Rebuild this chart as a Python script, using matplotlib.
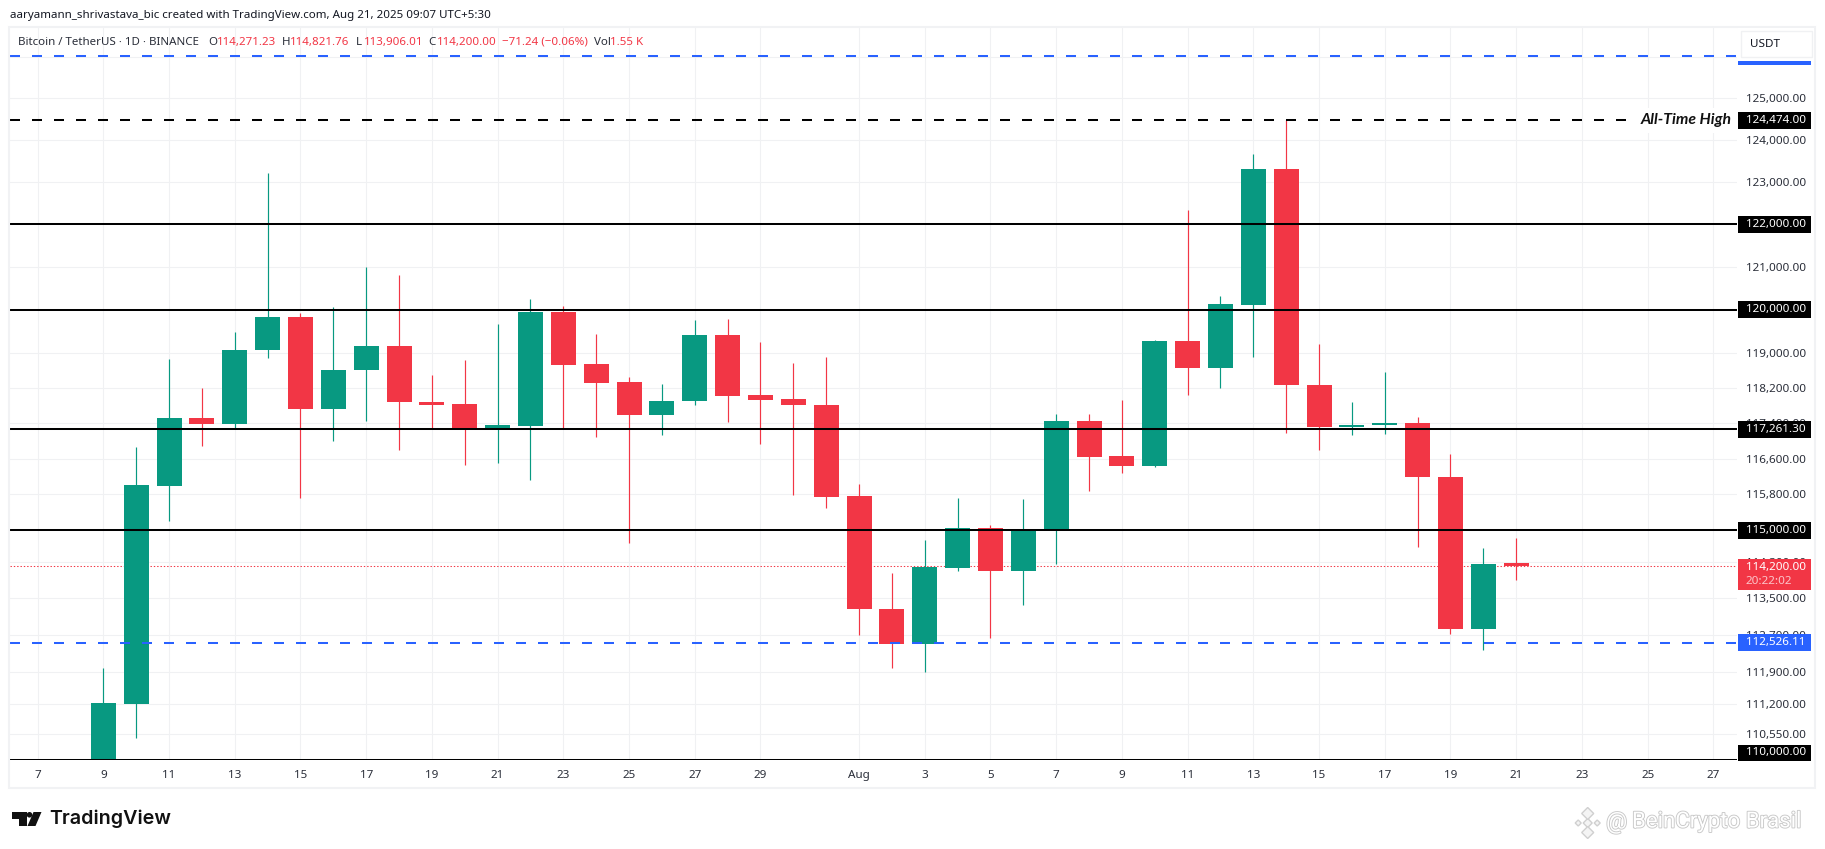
import matplotlib

matplotlib.use('Agg')
import matplotlib.dates as mdates
import matplotlib.patheffects as pe
import matplotlib.pyplot as plt
import pandas as pd
from matplotlib.patches import Circle, Polygon, Rectangle

plt.rcParams['font.family'] = ['Noto Sans', 'DejaVu Sans']
plt.rcParams['lines.scale_dashes'] = False

UP = '#089981'
DOWN = '#f23645'
BLUE = '#2962ff'
GRID = '#f0f1f3'
TEXT = '#2a2e39'

# daily candles, Jul 9 .. Aug 21 2025
dates = pd.date_range('2025-07-09', '2025-08-21')
opens = [108900, 111202, 115984, 117516, 117380, 119070, 119831, 117721, 118611, 119162, 117880,
         117834, 117290, 117335, 119947, 118748, 118336, 117585, 117903, 119416, 118040, 117949,
         117812, 115760, 113262, 112498, 114161, 115047, 114095, 114980, 117448, 116657, 116433,
         119277, 118656, 120109, 123305, 118268, 117313, 117358, 117403, 116185, 112825, 114271]
highs = [111978, 116861, 118863, 118200, 119484, 123210, 119924, 120063, 120993, 120806, 118496,
         118841, 119669, 120249, 120086, 119438, 118451, 118291, 119761, 119785, 119254, 118771,
         118909, 116028, 114051, 114781, 115715, 115114, 115693, 117608, 117608, 117926, 119299,
         122332, 120319, 123663, 124474, 119208, 117880, 118565, 117539, 116702, 114603, 114822]
lows = [108350, 110481, 115209, 116883, 117267, 118887, 115715, 116996, 117448, 116793, 117270,
        116455, 116500, 116118, 117290, 117086, 114714, 117131, 117812, 117426, 116928, 115782,
        115492, 112695, 111978, 111892, 114095, 112629, 113348, 114250, 115872, 116276, 116400,
        118040, 118199, 118909, 117176, 116793, 117131, 117154, 114625, 112716, 112368, 113906]
closes = [111224, 116006, 117516, 117380, 119070, 119831, 117721, 118611, 119162, 117880, 117812,
          117290, 117358, 119947, 118725, 118314, 117585, 117903, 119416, 118017, 117926, 117812,
          115737, 113262, 112498, 114183, 115047, 114095, 114980, 117448, 116635, 116433, 119277,
          118656, 120132, 123305, 118268, 117313, 117358, 117403, 116185, 112825, 114250, 114200]

price_ticks = [126000, 125000, 124000, 123000, 121000, 119000, 118200, 117400, 116600, 115800,
               114300, 113500, 112700, 111900, 111200, 110550]
solid_levels = [122000, 120000, 117261.30, 115000, 110000]
ath_level = 124474
blue_levels = [126025, 112526.11]
last_price = 114200

tick_dates = pd.to_datetime(
    ['2025-07-07', '2025-07-09', '2025-07-11', '2025-07-13', '2025-07-15', '2025-07-17', '2025-07-19',
     '2025-07-21', '2025-07-23', '2025-07-25', '2025-07-27', '2025-07-29', '2025-08-01', '2025-08-03',
     '2025-08-05', '2025-08-07', '2025-08-09', '2025-08-11', '2025-08-13', '2025-08-15', '2025-08-17',
     '2025-08-19', '2025-08-21', '2025-08-23', '2025-08-25', '2025-08-27'])
tick_labels = ['7', '9', '11', '13', '15', '17', '19', '21', '23', '25', '27', '29', 'Aug', '3', '5',
               '7', '9', '11', '13', '15', '17', '19', '21', '23', '25', '27']

W, H = 1825, 849
fig = plt.figure(figsize=(W / 100, H / 100), dpi=100, facecolor='white')
ax = fig.add_axes([10 / W, (H - 760.3) / H, 1727 / W, 733.3 / H])

x = mdates.date2num(dates)
x0 = mdates.date2num(pd.Timestamp('2025-07-07'))
ax.set_yscale('log')
ax.set_ylim(110000, 126733)
ax.set_xlim(x0 - 0.84, x0 + 51.72)

for spine in ax.spines.values():
    spine.set_visible(False)

ax.set_xticks(mdates.date2num(tick_dates), tick_labels)
ax.set_yticks(price_ticks, [f'{p:,.2f}' for p in price_ticks])
ax.minorticks_off()
ax.yaxis.tick_right()
ax.tick_params(axis='x', length=0, pad=7, labelsize=8.4, labelcolor=TEXT)
ax.tick_params(axis='y', length=0, pad=6.5, labelsize=8.4, labelcolor=TEXT)
ax.grid(True, color=GRID, lw=0.8)
ax.set_axisbelow(True)
for lab in ax.get_xticklabels():
    if lab.get_text() == 'Aug':
        lab.set_fontweight('bold')

colors = [UP if c >= o else DOWN for o, c in zip(opens, closes)]
ax.axhline(last_price, color=DOWN, lw=0.75, ls=(0, (1, 1.4)), zorder=2)
ax.vlines(x, lows, highs, colors=colors, lw=0.85, zorder=3)
ax.bar(x, [abs(c - o) for o, c in zip(opens, closes)], bottom=[min(o, c) for o, c in zip(opens, closes)],
       width=0.76, color=colors, zorder=4)

for level in solid_levels:
    ax.axhline(level, color='black', lw=1.45, zorder=5)
ax.axhline(ath_level, color='black', lw=1.45, ls=(0, (7.2, 8.64)), zorder=5)
for level in blue_levels:
    ax.axhline(level, color=BLUE, lw=1.45, ls=(0, (7.2, 8.64)), zorder=5)
ax.text(x0 + 51.55, ath_level, 'All-Time High', ha='right', va='center', family='Lato', fontsize=11.3,
        style='italic', fontweight='bold', color='#111111', zorder=6,
        bbox=dict(facecolor='white', edgecolor='none', pad=4))

# overlay in pixel coordinates for frame, price tags, header and logos
ov = fig.add_axes([0, 0, 1, 1], facecolor='none')
ov.set_xlim(0, W)
ov.set_ylim(H, 0)
ov.axis('off')
ov.add_patch(Rectangle((9, 27), 1806, 761, fill=False, edgecolor='#f1f2f4', lw=1.5))


def price_y(price):
    return H - ax.transData.transform((x0, price))[1]


def price_tag(price, color, label=None, top=None, bottom=None):
    y = price_y(price)
    top = y - 8.5 if top is None else top
    bottom = y + 8.5 if bottom is None else bottom
    ov.add_patch(Rectangle((1738, top), 73, bottom - top, facecolor=color, edgecolor='none'))
    ov.text(1746, (top + 8.5 if label else (top + bottom) / 2), f'{price:,.2f}', color='white', fontsize=8.4,
            fontweight='bold', ha='left', va='center')


price_tag(124474, 'black')
for level in [122000, 120000, 117261.30, 115000]:
    price_tag(level, 'black')
price_tag(110000, 'black', top=745, bottom=761)
price_tag(112526.11, BLUE)
price_tag(last_price, DOWN, label=True, top=559, bottom=590)
ov.text(1746, 581, '20:22:02', color='#fbc5ca', fontsize=8.4, fontweight='bold', ha='left', va='center')

# blue tag sits behind the currency button
ov.add_patch(Rectangle((1738, 48), 73, 17, facecolor=BLUE, edgecolor='none'))
ov.add_patch(Rectangle((1738, 28), 76, 33, facecolor='white', edgecolor='none'))
ov.add_patch(Rectangle((1741, 31), 71, 26, facecolor='white', edgecolor='#f0f1f3', lw=1))
ov.text(1750, 44.5, 'USDT', color='#131722', fontsize=8.4, ha='left', va='center')

ov.text(10, 15, 'aaryamann_shrivastava_bic created with TradingView.com, Aug 21, 2025 09:07 UTC+5:30',
        fontsize=8.3, color='#131722', ha='left', va='center')
legend_parts = [
    (18, 'Bitcoin / TetherUS · 1D · BINANCE', TEXT), (208, 'O', TEXT), (216.5, '114,271.23', DOWN),
    (282, 'H', TEXT), (290, '114,821.76', DOWN), (356, 'L', TEXT), (364, '113,906.01', DOWN),
    (428.5, 'C', TEXT), (436.5, '114,200.00', DOWN), (502, '−71.24 (−0.06%)', DOWN),
    (594.5, 'Vol', TEXT), (610.5, '1.55 K', DOWN),
]
for px, txt, col in legend_parts:
    ov.text(px, 42, txt, color=col, fontsize=8.3, ha='left', va='center')

# TradingView logo
ov.add_patch(Polygon([(12.5, 812), (27, 812), (27, 826), (19.5, 826), (19.5, 818.5), (12.5, 818.5)],
                     facecolor='#111111', edgecolor='none'))
ov.add_patch(Circle((29.5, 814.8), 2.8, facecolor='#111111', edgecolor='none'))
ov.add_patch(Polygon([(33.5, 812), (41.5, 812), (35.5, 826), (27.5, 826)], facecolor='#111111', edgecolor='none'))
ov.text(49, 819, 'TradingView', family='Inter', fontsize=14.2, fontweight='semibold', color='#111111',
        ha='left', va='center')

# faint watermark
ghost = [pe.withStroke(linewidth=1.3, foreground='#c8c8c8')]
ov.text(1606, 822, '@', family='Roboto', fontsize=17, color='white', ha='left', va='center', path_effects=ghost)
ov.text(1632, 822, 'BeinCrypto Brasil', family='Roboto', fontsize=16, color='white', ha='left', va='center',
        path_effects=ghost)
for dx, dy, r in [(0, 0, 4.5), (-9.5, 0, 3), (9.5, 0, 3), (0, -9.5, 6), (0, 9.5, 6)]:
    ov.add_patch(Polygon([(1587.7 + dx - r, 823 + dy), (1587.7 + dx, 823 + dy - r),
                          (1587.7 + dx + r, 823 + dy), (1587.7 + dx, 823 + dy + r)],
                         facecolor='#f4f4f4', edgecolor='#d0d0d0', lw=1))

fig.savefig('out.png', dpi=100)
plt.close(fig)
